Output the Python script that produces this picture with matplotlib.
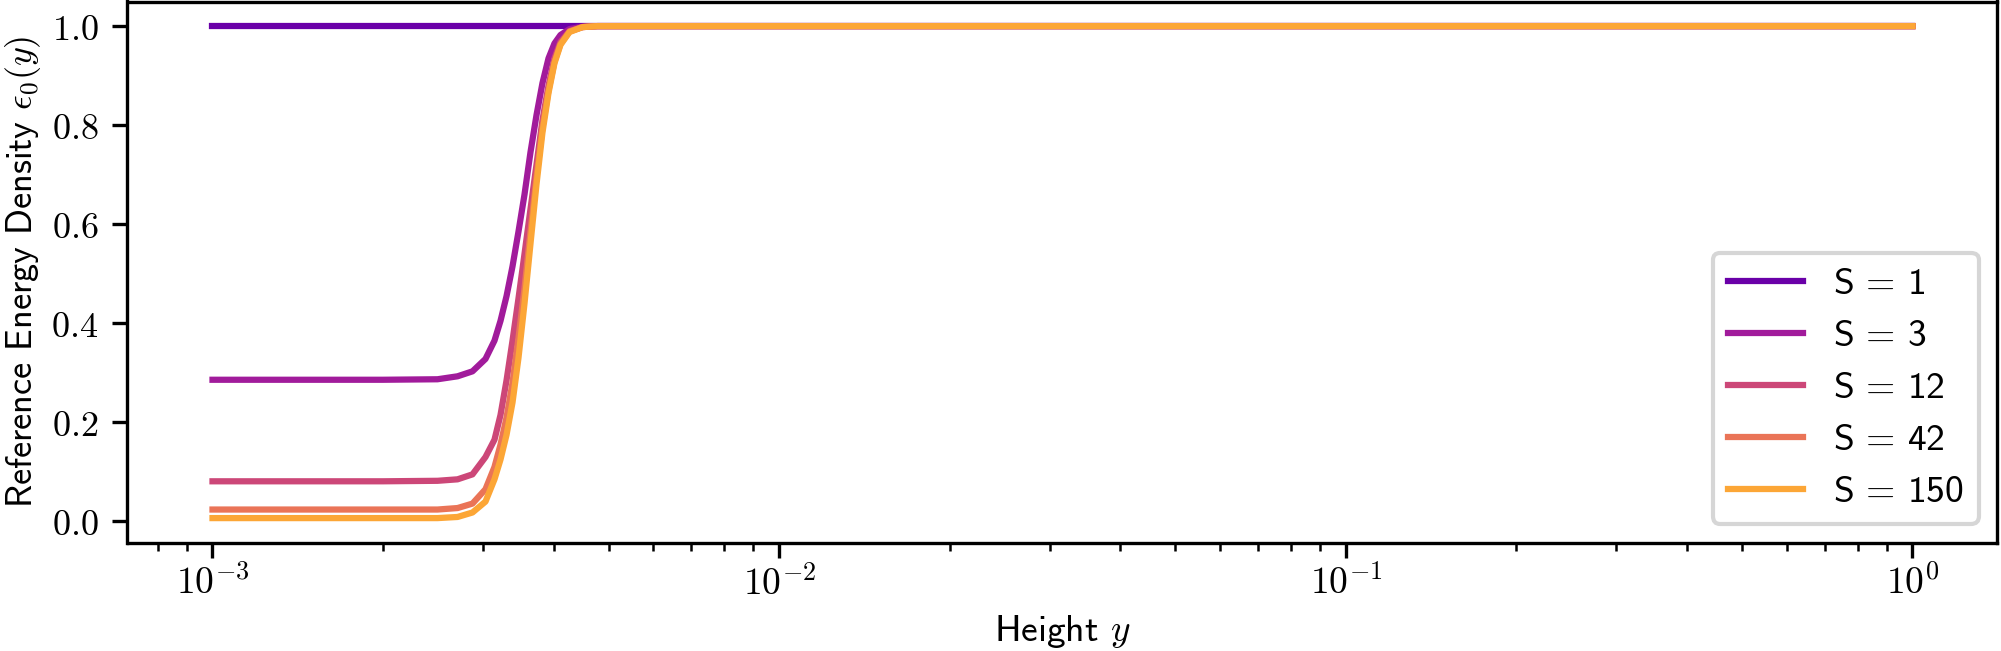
import numpy as np
import matplotlib
matplotlib.use("Agg")
import matplotlib.pyplot as plt
from matplotlib.ticker import FuncFormatter, FixedLocator

plt.rcParams['mathtext.fontset'] = 'cm'
plt.rcParams['axes.unicode_minus'] = False
plt.rcParams['font.size'] = 9

# ---- data ----
heights = [1.0e-3, 2.0e-3, 2.495e-3, 2.707e-3, 2.876e-3, 3.032e-3, 3.145e-3, 3.223e-3,
           3.303e-3, 3.384e-3, 3.467e-3, 3.553e-3, 3.640e-3, 3.730e-3, 3.822e-3,
           3.917e-3, 4.013e-3, 4.112e-3, 4.266e-3, 4.497e-3, 4.780e-3, 6.0e-3,
           1.0e-2, 1.0e-1, 1.0]

series_labels = ["S = 1", "S = 3", "S = 12", "S = 42", "S = 150"]

eps_S1 = [1.0] * 25
eps_S3 = [0.286, 0.286, 0.287, 0.293, 0.303, 0.328, 0.365, 0.405, 0.455, 0.515,
          0.585, 0.66, 0.745, 0.82, 0.885, 0.935, 0.965, 0.982, 0.994, 0.999,
          1.0, 1.0, 1.0, 1.0, 1.0]
eps_S12 = [0.081, 0.081, 0.082, 0.085, 0.095, 0.13, 0.165, 0.215, 0.285, 0.365,
           0.45, 0.54, 0.63, 0.72, 0.81, 0.88, 0.935, 0.968, 0.99, 0.998,
           1.0, 1.0, 1.0, 1.0, 1.0]
eps_S42 = [0.024, 0.024, 0.024, 0.027, 0.036, 0.065, 0.11, 0.155, 0.21, 0.28,
           0.37, 0.47, 0.585, 0.695, 0.795, 0.87, 0.928, 0.964, 0.989, 0.998,
           1.0, 1.0, 1.0, 1.0, 1.0]
eps_S150 = [0.0067, 0.0067, 0.0067, 0.009, 0.018, 0.04, 0.085, 0.125, 0.175, 0.24,
            0.33, 0.44, 0.56, 0.68, 0.785, 0.865, 0.925, 0.962, 0.988, 0.998,
            1.0, 1.0, 1.0, 1.0, 1.0]

all_series = [eps_S1, eps_S3, eps_S12, eps_S42, eps_S150]
y_ticks = [0.0, 0.2, 0.4, 0.6, 0.8, 1.0]
x_ticks = [1e-3, 1e-2, 1e-1, 1e0]

# ---- plot ----
fig = plt.figure(figsize=(2002 / 300, 651 / 300), dpi=300)
ax = fig.add_axes([127.5 / 2002, 1 - 542.7 / 651, (1997.5 - 127.5) / 2002, (542.7 - 1.5) / 651])

colors = plt.cm.plasma(np.linspace(0.2, 0.8, len(all_series)))
for vals, lab, c in zip(all_series, series_labels, colors):
    lab_tex = lab.replace(" = ", r"$\,=\,$")
    ax.plot(heights, vals, color=c, lw=1.5, label=lab_tex)

ax.set_xscale('log')
ax.xaxis.set_major_locator(FixedLocator(x_ticks))
ax.xaxis.set_major_formatter(FuncFormatter(lambda v, p: r'$10^{%d}$' % int(round(np.log10(v)))))
ax.set_yticks(y_ticks)
ax.yaxis.set_major_formatter(FuncFormatter(lambda v, p: r'$%.1f$' % v))
ax.tick_params(axis='y', labelsize=8.7)
ax.tick_params(axis='x', labelsize=9, pad=2.0)

ax.set_xlabel(r'Height $y$', fontfamily='cmss10', fontsize=9, labelpad=2.5)
ax.set_ylabel(r'Reference Energy Density $\epsilon_0(y)$', fontfamily='cmss10', fontsize=8.7, labelpad=2)

ax.legend(loc='lower right', prop={'family': 'cmss10', 'size': 9})

fig.savefig('out.png', dpi=300)
